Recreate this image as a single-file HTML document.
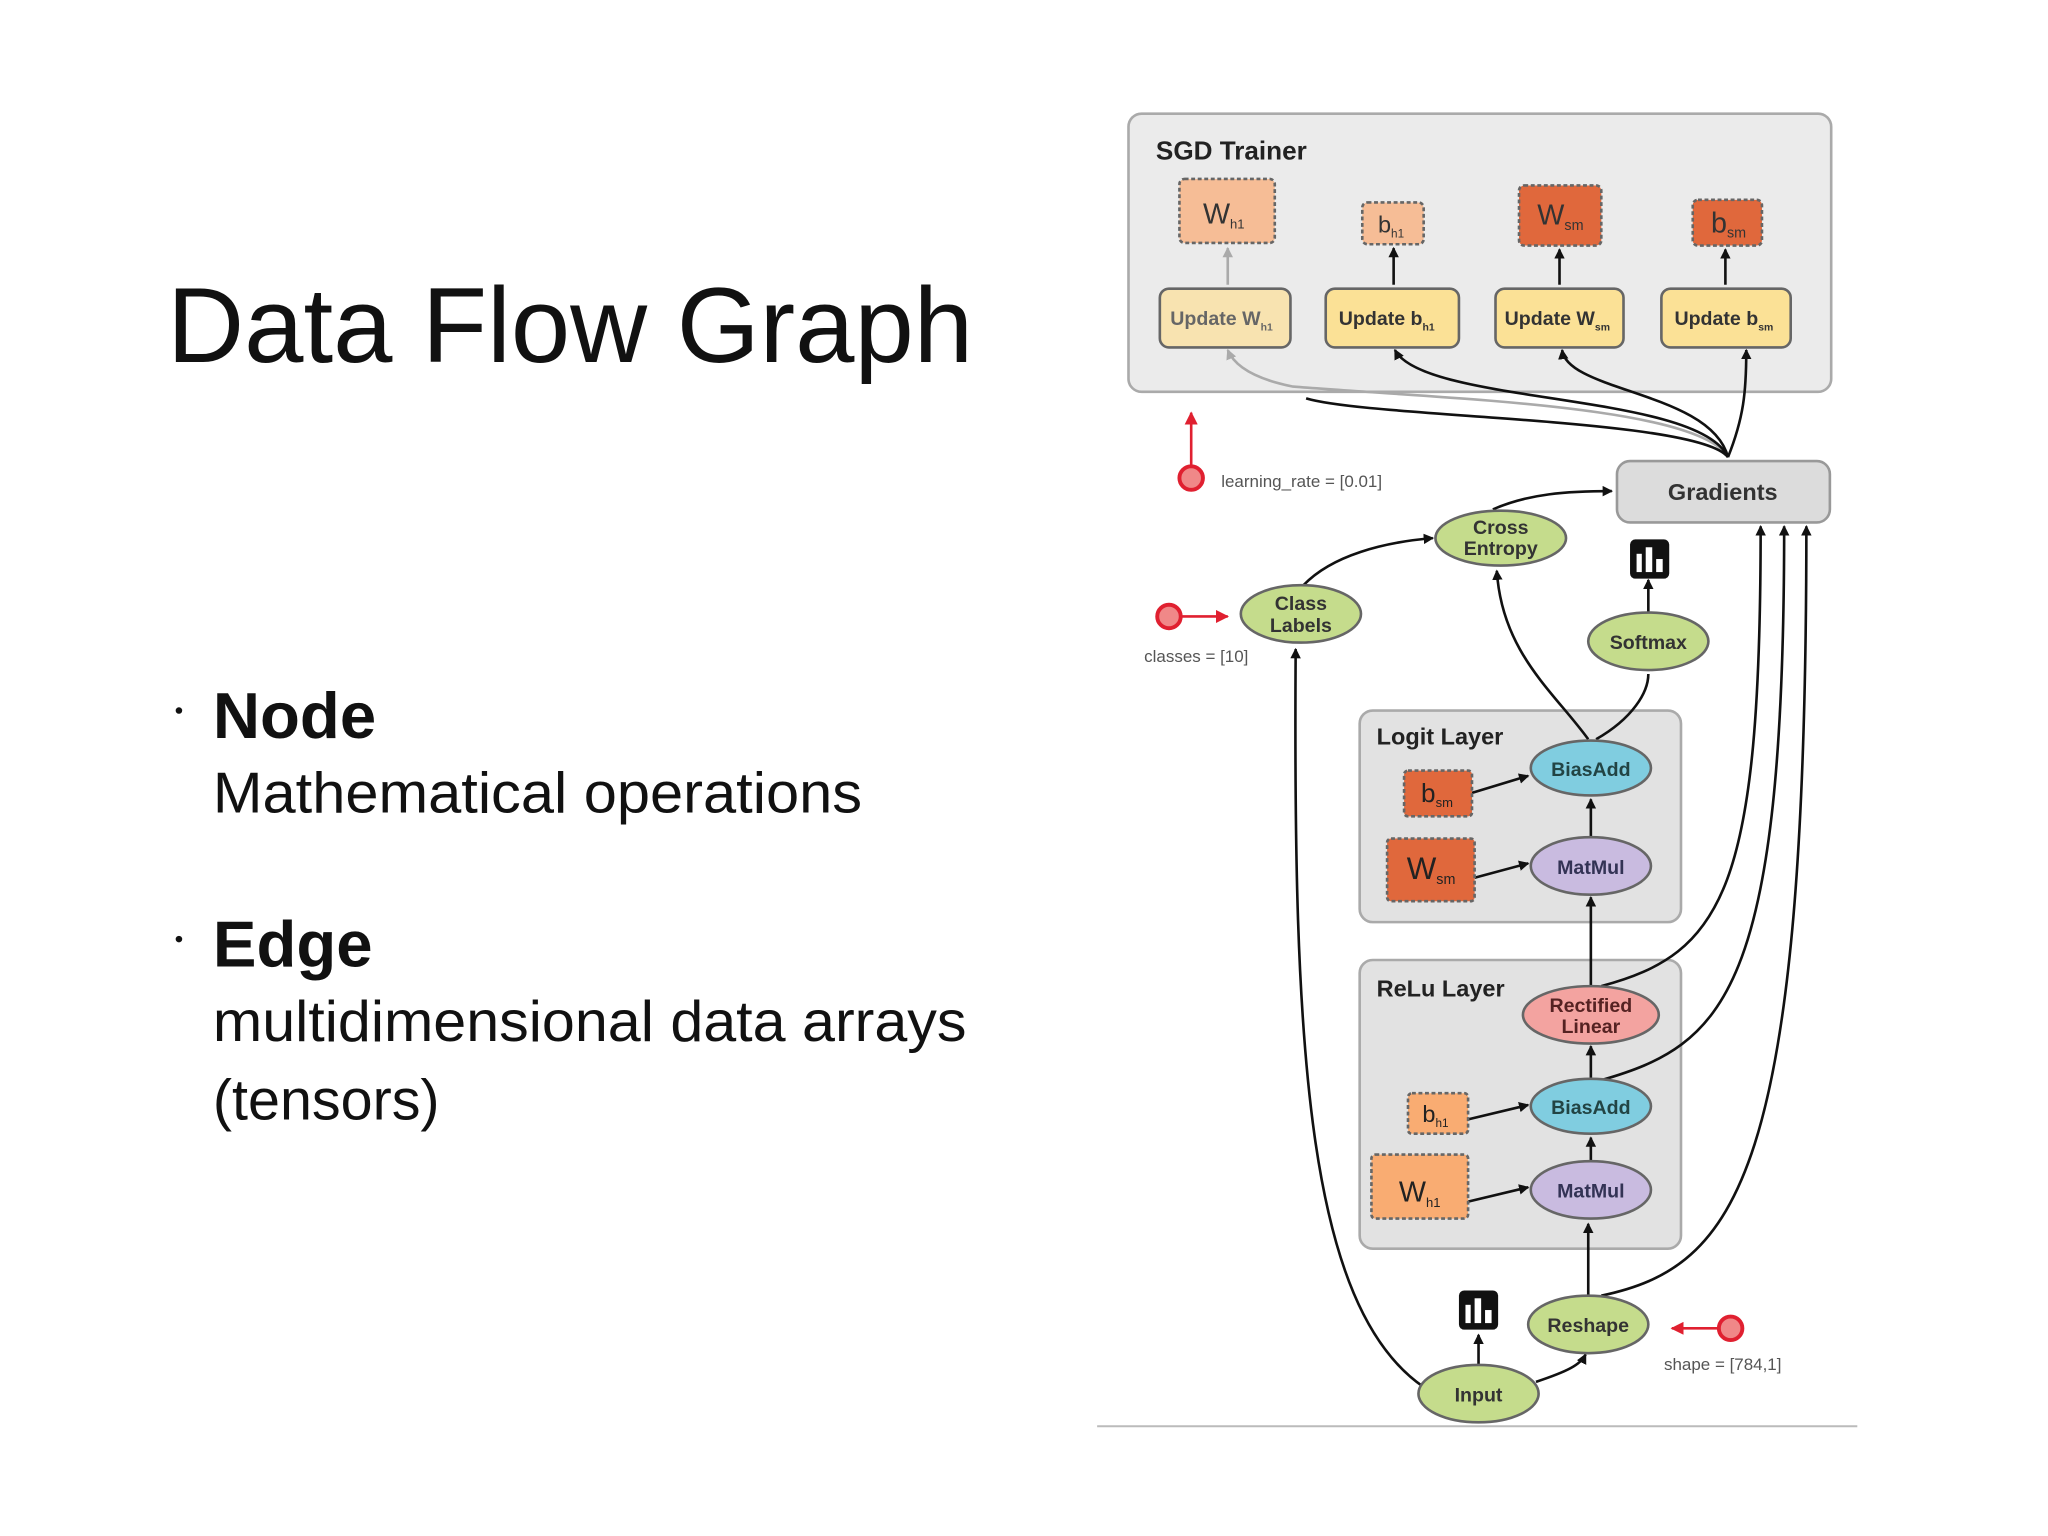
<!DOCTYPE html>
<html><head><meta charset="utf-8"><style>html,body{margin:0;padding:0;background:#fff}svg{display:block}</style></head>
<body>
<svg width="2048" height="1536" viewBox="0 0 1568 1176" xmlns="http://www.w3.org/2000/svg" font-family="'Liberation Sans', 'DejaVu Sans', sans-serif">
<defs>
<marker id="a" markerWidth="8" markerHeight="8" refX="7" refY="4" orient="auto" markerUnits="userSpaceOnUse"><path d="M0,0 L8,4 L0,8 z" fill="#111"/></marker>
<marker id="g" markerWidth="8" markerHeight="8" refX="7" refY="4" orient="auto" markerUnits="userSpaceOnUse"><path d="M0,0 L8,4 L0,8 z" fill="#aaa"/></marker>
<marker id="r" markerWidth="10" markerHeight="10" refX="9" refY="5" orient="auto" markerUnits="userSpaceOnUse"><path d="M0,0 L10,5 L0,10 z" fill="#e02030"/></marker>
</defs>
<rect width="1568" height="1176" fill="#fff"/>
<text x="128" y="277" font-size="82" fill="#111" textLength="617" lengthAdjust="spacingAndGlyphs">Data Flow Graph</text>
<circle cx="137" cy="544" r="2.5" fill="#111"/>
<text x="163" y="565" font-size="50" font-weight="bold" fill="#111">Node</text>
<text x="163" y="622" font-size="44" fill="#111" textLength="497" lengthAdjust="spacingAndGlyphs">Mathematical operations</text>
<circle cx="137" cy="719" r="2.5" fill="#111"/>
<text x="163" y="740" font-size="50" font-weight="bold" fill="#111">Edge</text>
<text x="163" y="797" font-size="44" fill="#111" textLength="577" lengthAdjust="spacingAndGlyphs">multidimensional data arrays</text>
<text x="163" y="857" font-size="44" fill="#111">(tensors)</text>

<!-- SGD trainer -->
<rect x="864" y="87" width="538" height="213" rx="10" fill="#ebebeb" stroke="#aaa" stroke-width="2"/>
<text x="885" y="122" font-size="20" font-weight="bold" fill="#222">SGD Trainer</text>
<g stroke="#666" stroke-width="2" stroke-dasharray="3,2">
<rect x="903" y="137" width="73" height="49" rx="4" fill="#f6bd96"/>
<rect x="1043" y="155" width="47" height="32" rx="4" fill="#f6bd96"/>
<rect x="1163" y="142" width="63" height="46" rx="4" fill="#e0683c"/>
<rect x="1296" y="153" width="53" height="35" rx="4" fill="#e0683c"/>
</g>
<g font-size="22" fill="#333"><text x="921" y="171">W<tspan font-size="10" dy="4">h1</tspan></text>
<text x="1055" y="178" font-size="18">b<tspan font-size="9" dy="4">h1</tspan></text>
<text x="1177" y="172">W<tspan font-size="11" dy="4">sm</tspan></text>
<text x="1310" y="178">b<tspan font-size="11" dy="4">sm</tspan></text></g>
<g stroke="#666" stroke-width="2">
<rect x="888" y="221" width="100" height="45" rx="7" fill="#f8e3b0"/>
<rect x="1015" y="221" width="102" height="45" rx="7" fill="#fbe196"/>
<rect x="1145" y="221" width="98" height="45" rx="7" fill="#fbe196"/>
<rect x="1272" y="221" width="99" height="45" rx="7" fill="#fbe196"/>
</g>
<g font-size="15" font-weight="bold" fill="#333">
<text x="896" y="249" fill="#666">Update W<tspan font-size="8" dy="4">h1</tspan></text>
<text x="1025" y="249">Update b<tspan font-size="8" dy="4">h1</tspan></text>
<text x="1152" y="249">Update W<tspan font-size="8" dy="4">sm</tspan></text>
<text x="1282" y="249">Update b<tspan font-size="8" dy="4">sm</tspan></text></g>
<g fill="none" stroke-width="2">
<path d="M940,218 V190" stroke="#aaa" marker-end="url(#g)"/>
<path d="M1067,218 V190" stroke="#111" marker-end="url(#a)"/>
<path d="M1194,218 V191" stroke="#111" marker-end="url(#a)"/>
<path d="M1321,218 V191" stroke="#111" marker-end="url(#a)"/>
<path d="M1323,350 C1300,310 1100,305 990,296 C960,290 945,280 940,268" stroke="#aaa" marker-end="url(#g)"/>
<path d="M1323,350 C1300,300 1090,310 1068,268" stroke="#111" marker-end="url(#a)"/>
<path d="M1323,350 C1310,300 1200,300 1196,268" stroke="#111" marker-end="url(#a)"/>
<path d="M1323,350 C1335,320 1337,300 1337,268" stroke="#111" marker-end="url(#a)"/>
<path d="M1323,350 C1300,320 1050,320 1000,305" stroke="#111"/>
</g>
<rect x="1238" y="353" width="163" height="47" rx="10" fill="#dcdcdc" stroke="#999" stroke-width="2"/>
<text x="1319" y="383" font-size="18" font-weight="bold" fill="#333" text-anchor="middle">Gradients</text>

<!-- red inputs -->
<path d="M912,356 V316" stroke="#e02030" stroke-width="2" marker-end="url(#r)"/>
<circle cx="912" cy="366" r="9" fill="#f08888" stroke="#e02030" stroke-width="3"/>
<text x="935" y="373" font-size="13" fill="#555">learning_rate = [0.01]</text>
<path d="M904,472 H940" stroke="#e02030" stroke-width="2" marker-end="url(#r)"/>
<circle cx="895" cy="472" r="9" fill="#f08888" stroke="#e02030" stroke-width="3"/>
<text x="876" y="507" font-size="13" fill="#555">classes = [10]</text>
<path d="M1316,1017 H1280" stroke="#e02030" stroke-width="2" marker-end="url(#r)"/>
<circle cx="1325" cy="1017" r="9" fill="#f08888" stroke="#e02030" stroke-width="3"/>
<text x="1274" y="1049" font-size="13" fill="#555">shape = [784,1]</text>

<!-- layer boxes -->
<rect x="1041" y="544" width="246" height="162" rx="10" fill="#e2e2e2" stroke="#aaa" stroke-width="2"/>
<text x="1054" y="570" font-size="18" font-weight="bold" fill="#222">Logit Layer</text>
<rect x="1041" y="735" width="246" height="221" rx="10" fill="#e2e2e2" stroke="#aaa" stroke-width="2"/>
<text x="1054" y="763" font-size="18" font-weight="bold" fill="#222">ReLu Layer</text>

<!-- edges -->
<g fill="none" stroke="#111" stroke-width="2">
<path d="M1143,390 C1170,378 1200,376 1234,376" marker-end="url(#a)"/>
<path d="M998,448 C1020,425 1060,415 1097,412" marker-end="url(#a)"/>
<path d="M1216,566 C1190,530 1150,500 1146,437" marker-end="url(#a)"/>
<path d="M1222,566 C1250,550 1262,530 1262,516"/>
<path d="M1262,470 V444" marker-end="url(#a)"/>
<path d="M1218,641 V612" marker-end="url(#a)"/>
<path d="M1218,755 V687" marker-end="url(#a)"/>
<path d="M1218,825 V801" marker-end="url(#a)"/>
<path d="M1218,889 V871" marker-end="url(#a)"/>
<path d="M1216,992 V937" marker-end="url(#a)"/>
<path d="M1127,607 L1170,594" marker-end="url(#a)"/>
<path d="M1129,672 L1170,661" marker-end="url(#a)"/>
<path d="M1124,857 L1170,846" marker-end="url(#a)"/>
<path d="M1124,920 L1170,909" marker-end="url(#a)"/>
<path d="M1176,1058 C1200,1050 1210,1045 1214,1037" marker-end="url(#a)"/>
<path d="M1132,1045 V1022" marker-end="url(#a)"/>
<path d="M1090,1062 C1000,1000 990,800 992,497" marker-end="url(#a)"/>
<path d="M1226,755 C1320,730 1348,680 1348,403" marker-end="url(#a)"/>
<path d="M1226,827 C1320,800 1366,760 1366,403" marker-end="url(#a)"/>
<path d="M1226,992 C1330,970 1383,900 1383,403" marker-end="url(#a)"/>
</g>

<!-- ellipses -->
<g stroke="#666" stroke-width="2">
<ellipse cx="1149" cy="412" rx="50" ry="21" fill="#c5dc8c"/>
<ellipse cx="996" cy="470" rx="46" ry="22" fill="#c5dc8c"/>
<ellipse cx="1262" cy="491" rx="46" ry="22" fill="#c5dc8c"/>
<ellipse cx="1218" cy="588" rx="46" ry="21" fill="#80cde0"/>
<ellipse cx="1218" cy="663" rx="46" ry="22" fill="#c9bbe0"/>
<ellipse cx="1218" cy="777" rx="52" ry="22" fill="#f3a3a0"/>
<ellipse cx="1218" cy="847" rx="46" ry="21" fill="#80cde0"/>
<ellipse cx="1218" cy="911" rx="46" ry="22" fill="#c9bbe0"/>
<ellipse cx="1216" cy="1014" rx="46" ry="22" fill="#c5dc8c"/>
<ellipse cx="1132" cy="1067" rx="46" ry="22" fill="#c5dc8c"/>
</g>
<g font-size="15" fill="#333" text-anchor="middle" font-weight="bold">
<text x="1149" y="409">Cross</text><text x="1149" y="425">Entropy</text>
<text x="996" y="467">Class</text><text x="996" y="484">Labels</text>
<text x="1262" y="497">Softmax</text>
<text x="1218" y="594" fill="#244">BiasAdd</text>
<text x="1218" y="669" fill="#335">MatMul</text>
<text x="1218" y="775" fill="#522">Rectified</text><text x="1218" y="791" fill="#522">Linear</text>
<text x="1218" y="853" fill="#244">BiasAdd</text>
<text x="1218" y="917" fill="#335">MatMul</text>
<text x="1216" y="1020">Reshape</text>
<text x="1132" y="1073">Input</text>
</g>
<g stroke="#666" stroke-width="2" stroke-dasharray="3,2">
<rect x="1075" y="590" width="52" height="35" rx="3" fill="#e0683c"/>
<rect x="1062" y="642" width="67" height="48" rx="3" fill="#e0683c"/>
<rect x="1078" y="837" width="46" height="31" rx="3" fill="#f9ac72"/>
<rect x="1050" y="884" width="74" height="49" rx="3" fill="#f9ac72"/>
</g>
<g font-size="20" fill="#222">
<text x="1088" y="614">b<tspan font-size="10" dy="4">sm</tspan></text>
<text x="1077" y="673" font-size="24">W<tspan font-size="11" dy="4">sm</tspan></text>
<text x="1089" y="859" font-size="18">b<tspan font-size="9" dy="4">h1</tspan></text>
<text x="1071" y="920" font-size="22">W<tspan font-size="10" dy="4">h1</tspan></text>
</g>
<!-- summary icons -->
<g>
<rect x="1248" y="413" width="30" height="30" rx="4" fill="#111"/>
<rect x="1253" y="424" width="4" height="14" fill="#fff"/><rect x="1260" y="419" width="5" height="19" fill="#fff"/><rect x="1268" y="428" width="5" height="10" fill="#fff"/>
<rect x="1117" y="988" width="30" height="30" rx="4" fill="#111"/>
<rect x="1122" y="999" width="4" height="14" fill="#fff"/><rect x="1129" y="994" width="5" height="19" fill="#fff"/><rect x="1137" y="1003" width="5" height="10" fill="#fff"/>
</g>
<line x1="840" y1="1092" x2="1422" y2="1092" stroke="#bbb" stroke-width="1.5"/>
</svg>
</body></html>
